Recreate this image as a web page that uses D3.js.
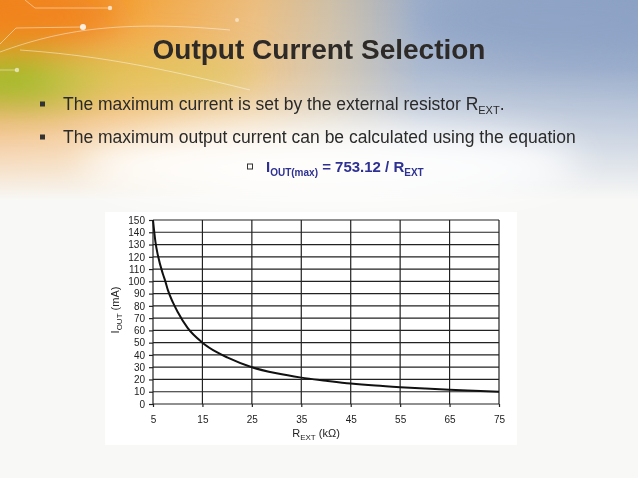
<!DOCTYPE html>
<html>
<head>
  <meta charset="utf-8">
  <title>Output Current Selection</title>
  <style>
    html, body { margin: 0; padding: 0; background: #f8f8f6; }
    svg { display: block; }
    .slide text { font-family: "Liberation Sans", Arial, sans-serif; }
    .tick text { font-size: 10px; fill: #222; }
    .grid line { stroke: #222; stroke-width: 1.2; }
    .axis path { stroke: none; fill: none; }
    .axis line { stroke: #222; stroke-width: 1.2; }
  </style>
</head>
<body>
<script src="https://cdn.jsdelivr.net/npm/d3@7/dist/d3.min.js"></script>
<script>
  // values
  var rext = [5, 5.5, 6, 7, 7.5, 8, 9, 10, 12, 15, 18, 20, 25, 30, 35, 40, 45, 50, 55, 60, 65, 70, 75];
  var iout = [150, 132, 121, 106, 100, 93, 83, 75, 62, 50, 42, 38, 30, 25, 21.5, 19, 16.7, 15, 13.7, 12.6, 11.6, 10.8, 10];
  var xTicks = [5, 15, 25, 35, 45, 55, 65, 75];
  var yTicks = [0, 10, 20, 30, 40, 50, 60, 70, 80, 90, 100, 110, 120, 130, 140, 150];
  var bullets = [
    ["The maximum current is set by the external resistor R", "EXT", "."],
    ["The maximum output current can be calculated using the equation", "", ""]
  ];

  var W = 638, H = 478;

  var svg = d3.select('body')
    .append('svg')
    .attr('width', W)
    .attr('height', H)
    .attr('class', 'slide');

  var defs = svg.append('defs');

  // BACKGROUND
  var hg = defs.append('linearGradient').attr('id', 'topband')
    .attr('x1', 0).attr('y1', 0).attr('x2', 1).attr('y2', 0);
  [[0, '#f08a1e'], [0.22, '#f3a640'], [0.4, '#ebbd7e'], [0.52, '#cdbfa8'], [0.66, '#9fb0cb'], [1, '#8ea3c6']]
    .forEach(function(s) { hg.append('stop').attr('offset', s[0]).attr('stop-color', s[1]); });

  var vg = defs.append('linearGradient').attr('id', 'fade')
    .attr('x1', 0).attr('y1', 0).attr('x2', 0).attr('y2', 1);
  vg.append('stop').attr('offset', 0).attr('stop-color', '#fff').attr('stop-opacity', 1);
  vg.append('stop').attr('offset', 0.35).attr('stop-color', '#fff').attr('stop-opacity', 0.85);
  vg.append('stop').attr('offset', 1).attr('stop-color', '#fff').attr('stop-opacity', 0);

  defs.append('mask').attr('id', 'fademask')
    .append('rect').attr('width', W).attr('height', 200).attr('fill', 'url(#fade)');

  defs.append('filter').attr('id', 'blur').attr('x', '-50%').attr('y', '-50%').attr('width', '200%').attr('height', '200%')
    .append('feGaussianBlur').attr('stdDeviation', 18);

  svg.append('rect').attr('width', W).attr('height', H).attr('fill', '#f8f8f6');

  var bg = svg.append('g').attr('mask', 'url(#fademask)');
  bg.append('rect').attr('width', W).attr('height', 200).attr('fill', 'url(#topband)');

  var blobs = svg.append('g').attr('filter', 'url(#blur)');
  blobs.append('ellipse').attr('cx', 20).attr('cy', 80).attr('rx', 90).attr('ry', 24)
    .attr('fill', '#9cbf2c').attr('opacity', 1);
  blobs.append('ellipse').attr('cx', 150).attr('cy', 75).attr('rx', 110).attr('ry', 20)
    .attr('fill', '#d8cf5c').attr('opacity', 0.7);
  blobs.append('ellipse').attr('cx', 30).attr('cy', 15).attr('rx', 90).attr('ry', 35)
    .attr('fill', '#f0801a').attr('opacity', 0.8);
  blobs.append('ellipse').attr('cx', 560).attr('cy', 20).attr('rx', 150).attr('ry', 40)
    .attr('fill', '#8aa0c4').attr('opacity', 0.7);
  blobs.append('ellipse').attr('cx', 330).attr('cy', 165).attr('rx', 250).attr('ry', 40)
    .attr('fill', '#ffffff').attr('opacity', 0.9);

  // faint circuit traces
  var traces = svg.append('g').attr('stroke', '#fff').attr('stroke-opacity', 0.45).attr('fill', 'none').attr('stroke-width', 1);
  traces.append('path').attr('d', 'M25,0 L35,8 L108,8');
  traces.append('path').attr('d', 'M0,44 L16,28 L82,27');
  traces.append('path').attr('d', 'M0,70 L16,70');
  traces.append('path').attr('d', 'M0,52 C60,30 120,20 230,30');
  traces.append('path').attr('d', 'M20,50 C90,55 150,65 250,90');
  var dots = svg.append('g').attr('fill', '#fff');
  dots.append('circle').attr('cx', 110).attr('cy', 8).attr('r', 2.2).attr('fill-opacity', 0.7);
  dots.append('circle').attr('cx', 83).attr('cy', 27).attr('r', 3).attr('fill-opacity', 0.85);
  dots.append('circle').attr('cx', 17).attr('cy', 70).attr('r', 2.2).attr('fill-opacity', 0.6);
  dots.append('circle').attr('cx', 237).attr('cy', 20).attr('r', 2).attr('fill-opacity', 0.5);

  // TITLE
  svg.append('text')
    .attr('x', 319).attr('y', 59)
    .attr('text-anchor', 'middle')
    .style('font-size', '28px')
    .style('font-weight', 'bold')
    .style('fill', '#2d2a28')
    .text('Output Current Selection');

  // BULLETS
  var bulletRows = svg.append('g').selectAll('g')
    .data(bullets)
    .enter()
    .append('g')
    .attr('transform', function(d, i) { return 'translate(0,' + (109.5 + i * 33) + ')'; });

  bulletRows.append('rect')
    .attr('x', 40).attr('y', -8)
    .attr('width', 5).attr('height', 5)
    .attr('fill', '#333');

  var bt = bulletRows.append('text')
    .attr('x', 63)
    .style('font-size', '17.5px')
    .style('fill', '#2a2a2a');
  bt.append('tspan').text(function(d) { return d[0]; });
  bt.append('tspan').attr('dy', 4).style('font-size', '11px').text(function(d) { return d[1]; });
  bt.append('tspan').attr('dy', -4).text(function(d) { return d[2]; });

  // EQUATION
  svg.append('rect')
    .attr('x', 247.5).attr('y', 164).attr('width', 5).attr('height', 5)
    .attr('fill', 'none').attr('stroke', '#333').attr('stroke-width', 1);
  var eq = svg.append('text')
    .attr('x', 266).attr('y', 172)
    .style('font-size', '15px')
    .style('font-weight', 'bold')
    .style('fill', '#2e3192');
  eq.append('tspan').text('I');
  eq.append('tspan').attr('dy', 4).style('font-size', '10px').text('OUT(max)');
  eq.append('tspan').attr('dy', -4).text(' = 753.12 / R');
  eq.append('tspan').attr('dy', 4).style('font-size', '10px').text('EXT');

  // CHART PANEL
  svg.append('rect')
    .attr('x', 105).attr('y', 212)
    .attr('width', 412).attr('height', 233)
    .attr('fill', '#ffffff');

  var x = d3.scaleLinear().domain([5, 75]).range([153, 499]);
  var y = d3.scaleLinear().domain([0, 150]).range([404, 220]);

  var chart = svg.append('g').attr('class', 'chart');

  chart.append('g').attr('class', 'grid')
    .selectAll('line.h')
    .data(yTicks)
    .enter()
    .append('line')
    .attr('x1', x(5)).attr('x2', x(75))
    .attr('y1', function(d) { return y(d); })
    .attr('y2', function(d) { return y(d); });

  chart.append('g').attr('class', 'grid')
    .selectAll('line.v')
    .data(xTicks)
    .enter()
    .append('line')
    .attr('x1', function(d) { return x(d); })
    .attr('x2', function(d) { return x(d); })
    .attr('y1', y(0)).attr('y2', y(150));

  chart.append('g')
    .attr('class', 'axis')
    .attr('transform', 'translate(' + x(5) + ',0)')
    .call(d3.axisLeft(y).tickValues(yTicks).tickSize(4).tickPadding(4));

  chart.append('g')
    .attr('class', 'axis')
    .attr('transform', 'translate(0,' + y(0) + ')')
    .call(d3.axisBottom(x).tickValues(xTicks).tickSize(3).tickPadding(9));

  chart.selectAll('.axis .tick text').style('font-size', '10px').style('font-family', '"Liberation Sans", Arial, sans-serif');

  var pts = rext.map(function(r, i) { return [r, iout[i]]; });
  chart.append('path')
    .datum(pts)
    .attr('fill', 'none')
    .attr('stroke', '#111')
    .attr('stroke-width', 2)
    .attr('d', d3.line()
      .x(function(d) { return x(d[0]); })
      .y(function(d) { return y(d[1]); })
      .curve(d3.curveMonotoneX));

  // axis titles
  var xt = chart.append('text')
    .attr('x', 316).attr('y', 437)
    .attr('text-anchor', 'middle')
    .style('font-size', '11px')
    .style('fill', '#222');
  xt.append('tspan').text('R');
  xt.append('tspan').attr('dy', 3).style('font-size', '8px').text('EXT');
  xt.append('tspan').attr('dy', -3).text(' (kΩ)');

  var yt = chart.append('text')
    .attr('transform', 'translate(119,310) rotate(-90)')
    .attr('text-anchor', 'middle')
    .style('font-size', '11px')
    .style('fill', '#222');
  yt.append('tspan').text('I');
  yt.append('tspan').attr('dy', 3).style('font-size', '8px').text('OUT');
  yt.append('tspan').attr('dy', -3).text(' (mA)');
</script>
</body>
</html>
